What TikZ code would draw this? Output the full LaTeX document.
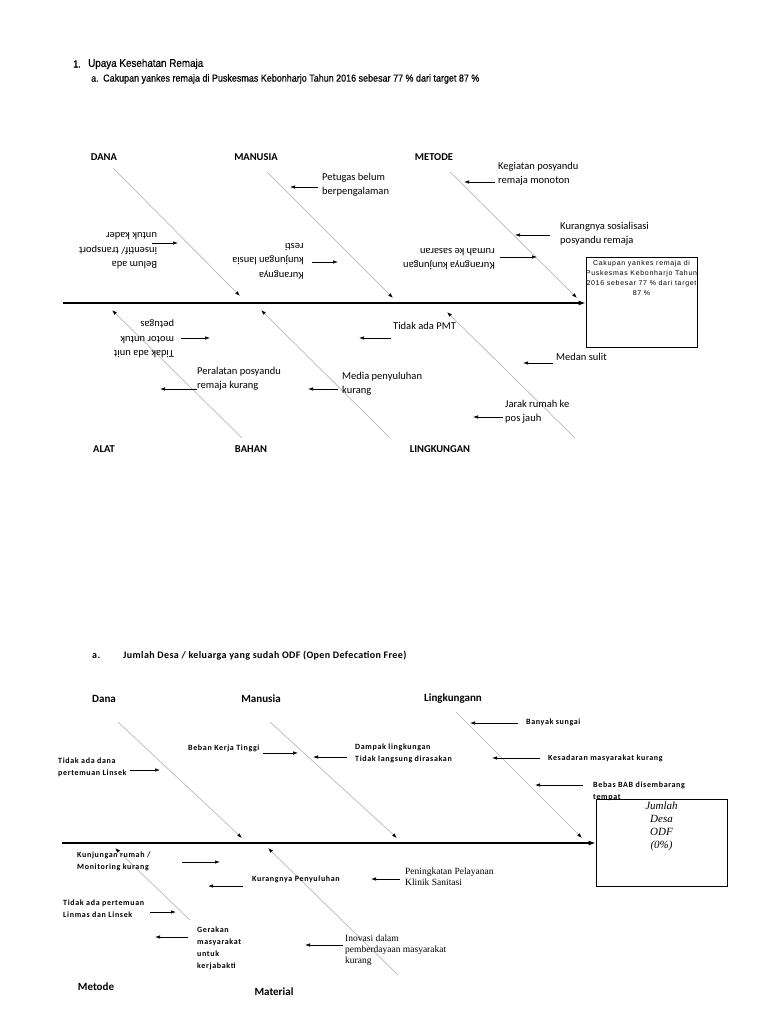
\documentclass[tikz,border=0pt]{standalone}
\usepackage{fontspec}
\usetikzlibrary{arrows.meta}
\usetikzlibrary{positioning}
\newfontfamily\fontcal{Carlito}
\newfontfamily\fontsmall[LetterSpace=8]{Carlito}
\newfontfamily\fonthead[LetterSpace=4]{Carlito}
\newfontfamily\fontarial[FakeStretch=0.88,FakeBold=0.4]{Liberation Sans}
\newfontfamily\fontbox[LetterSpace=10]{Liberation Sans}
\newfontfamily\fontserif{Liberation Serif}
\tikzset{
  bone/.style={draw=gray!55,line width=0.7pt,
    -{Latex[length=5pt,width=3.5pt,color=black]}},
  spine/.style={line width=1.8pt,-{Latex[length=7pt,width=5pt]}},
  cause/.style={line width=0.7pt,-{Latex[length=5pt,width=3.5pt]}},
  heading/.style={font=\fontarial\fontsize{10.2}{11}\selectfont,anchor=west,inner sep=0pt},
  headingb/.style={font=\fonthead\bfseries\fontsize{10}{11}\selectfont,anchor=west,inner sep=0pt},
  cat/.style={font=\fontcal\bfseries\fontsize{10.5}{12}\selectfont,inner sep=0pt},
  cattwo/.style={font=\fontcal\bfseries\fontsize{11}{12}\selectfont,inner sep=0pt},
  why/.style={font=\fontcal\fontsize{10.5}{14.5}\selectfont,align=left,anchor=west,inner sep=0pt},
  whyup/.style={why,anchor=center,rotate=180},
  whytiny/.style={font=\fontsmall\bfseries\fontsize{8}{12}\selectfont,align=left,anchor=west,inner sep=0pt},
  whyserif/.style={font=\fontserif\fontsize{9.5}{11}\selectfont,align=left,anchor=west,inner sep=0pt},
  effect/.style={rectangle,draw,line width=0.8pt,inner sep=0pt},
}

\begin{document}
\begin{tikzpicture}[x=1pt,y=-1pt]
  \useasboundingbox (0,0) rectangle (768,1024);

  % headings
  \node (h1n) [heading] at (73,64) {1.};
  \node (h1t) [heading,font=\fontarial\fontsize{11.2}{12}\selectfont] at (88,64) {Upaya Kesehatan Remaja};
  \node (h1an) [heading] at (91,79) {a.};
  \node (h1at) [heading] at (103,79) {Cakupan yankes remaja di Puskesmas Kebonharjo Tahun 2016 sebesar 77 \% dari target 87 \%};

  % ---- first fishbone
  \node (box1) [effect,minimum width=111pt,minimum height=90pt] at (641.5,302) {};
  \node (box1t) [font=\fontbox\fontsize{7}{10}\selectfont,align=center,below=4pt of box1.north,inner sep=0pt]
    {Cakupan yankes remaja di\\Puskesmas Kebonharjo Tahun\\2016 sebesar 77 \% dari target\\87 \%};
  \coordinate (s1) at (63,303);
  \draw[spine] (s1) -- (box1.west |- s1);

  \node (dana) [cat] at (104,157) {DANA};
  \node (manusia) [cat] at (256,157) {MANUSIA};
  \node (metode) [cat] at (434,157) {METODE};
  \node (alat) [cat] at (104,449) {ALAT};
  \node (bahan) [cat] at (251,449) {BAHAN};
  \node (lingk) [cat] at (440,449) {LINGKUNGAN};

  \coordinate (b1a) at (113,168); \coordinate (b1b) at (240,296);
  \coordinate (b2a) at (267,172); \coordinate (b2b) at (393,298);
  \coordinate (b3a) at (450,172); \coordinate (b3b) at (577,298);
  \coordinate (b4a) at (242,438); \coordinate (b4b) at (112,310);
  \coordinate (b5a) at (390,438); \coordinate (b5b) at (261,310);
  \coordinate (b6a) at (575,438); \coordinate (b6b) at (447,312);
  \draw[bone] (b1a) -- (b1b);
  \draw[bone] (b2a) -- (b2b);
  \draw[bone] (b3a) -- (b3b);
  \draw[bone] (b4a) -- (b4b);
  \draw[bone] (b5a) -- (b5b);
  \draw[bone] (b6a) -- (b6b);

  \node (insentif) [whyup] at (118,251) {Belum ada\\insentif/ transport\\untuk kader};
  \node (petugas) [why] at (322,185) {Petugas belum\\berpengalaman};
  \node (lansia) [whyup] at (268,261) {Kurangnya\\kunjungan lansia\\resti};
  \node (monoton) [why] at (498,174) {Kegiatan posyandu\\remaja monoton};
  \node (sosial) [why] at (560,234) {Kurangnya sosialisasi\\posyandu remaja};
  \node (sasaran) [whyup] at (449,259) {Kurangnya kunjungan\\rumah ke sasaran};
  \node (motor) [whyup] at (144,339) {Tidak ada unit\\motor untuk\\petugas};
  \node (peralatan) [why] at (197,379) {Peralatan posyandu\\remaja kurang};
  \node (media) [why] at (342,384) {Media penyuluhan\\kurang};
  \node (pmt) [why] at (393,326) {Tidak ada PMT};
  \node (medan) [why] at (556,357) {Medan sulit};
  \node (jarak) [why] at (505,412) {Jarak rumah ke\\pos jauh};

  \coordinate (c1a) at (152,243); \coordinate (c1b) at (178,243);
  \coordinate (c2a) at (318,187); \coordinate (c2b) at (290,187);
  \coordinate (c3a) at (312,262); \coordinate (c3b) at (338,262);
  \coordinate (c4a) at (495,182); \coordinate (c4b) at (464,182);
  \coordinate (c5a) at (550,235); \coordinate (c5b) at (515,235);
  \coordinate (c6a) at (500,257); \coordinate (c6b) at (537,257);
  \coordinate (c7a) at (181,338); \coordinate (c7b) at (210,338);
  \coordinate (c8a) at (197,389); \coordinate (c8b) at (160,389);
  \coordinate (c9a) at (338,389); \coordinate (c9b) at (308,389);
  \coordinate (c10a) at (391,338); \coordinate (c10b) at (359,338);
  \coordinate (c11a) at (553,363); \coordinate (c11b) at (523,363);
  \coordinate (c12a) at (503,417); \coordinate (c12b) at (473,417);
  \draw[cause] (c1a) -- (c1b);
  \draw[cause] (c2a) -- (c2b);
  \draw[cause] (c3a) -- (c3b);
  \draw[cause] (c4a) -- (c4b);
  \draw[cause] (c5a) -- (c5b);
  \draw[cause] (c6a) -- (c6b);
  \draw[cause] (c7a) -- (c7b);
  \draw[cause] (c8a) -- (c8b);
  \draw[cause] (c9a) -- (c9b);
  \draw[cause] (c10a) -- (c10b);
  \draw[cause] (c11a) -- (c11b);
  \draw[cause] (c12a) -- (c12b);

  % ---- second fishbone
  \node (h2n) [headingb] at (92,656) {a.};
  \node (h2t) [headingb] at (123,656) {Jumlah Desa / keluarga yang sudah ODF (Open Defecation Free)};

  \node (box2) [effect,minimum width=131pt,minimum height=87pt] at (661.5,842.5) {};
  \node (box2t) [font=\fontserif\itshape\fontsize{11}{13}\selectfont,align=center,below=3pt of box2.north,inner sep=0pt]
    {Jumlah\\Desa\\ODF\\(0\%)};
  \coordinate (s2) at (62,843);
  \draw[spine] (s2) -- (box2.west |- s2);

  \node (dana2) [cattwo] at (104,699) {Dana};
  \node (manusia2) [cattwo] at (261,699) {Manusia};
  \node (lingk2) [cattwo] at (453,699) {Lingkungann};
  \node (metode2) [cattwo] at (96,987) {Metode};
  \node (material2) [cattwo] at (274,992) {Material};

  \coordinate (d1a) at (118,722); \coordinate (d1b) at (242,838);
  \coordinate (d2a) at (270,722); \coordinate (d2b) at (397,838);
  \coordinate (d3a) at (456,712); \coordinate (d3b) at (582,838);
  \coordinate (d4a) at (190,920); \coordinate (d4b) at (115,848);
  \coordinate (d5a) at (398,975); \coordinate (d5b) at (268,848);
  \draw[bone] (d1a) -- (d1b);
  \draw[bone] (d2a) -- (d2b);
  \draw[bone] (d3a) -- (d3b);
  \draw[bone] (d4a) -- (d4b);
  \draw[bone] (d5a) -- (d5b);

  \node (danalinsek) [whytiny] at (58,767) {Tidak ada dana\\pertemuan Linsek};
  \node (beban) [whytiny] at (188,748) {Beban Kerja Tinggi};
  \node (dampak) [whytiny] at (355,753) {Dampak lingkungan\\Tidak langsung dirasakan};
  \node (sungai) [whytiny] at (526,722) {Banyak sungai};
  \node (sadar) [whytiny] at (548,758) {Kesadaran masyarakat kurang};
  \node (bab) [whytiny] at (593,791) {Bebas BAB disembarang\\tempat};
  \node (monitor) [whytiny] at (77,861) {Kunjungan rumah /\\Monitoring kurang};
  \node (penyuluhan) [whytiny] at (252,879) {Kurangnya Penyuluhan};
  \node (klinik) [whyserif] at (405,877) {Peningkatan Pelayanan\\Klinik Sanitasi};
  \node (linmas) [whytiny] at (63,909) {Tidak ada pertemuan\\Linmas dan Linsek};
  \node (gerakan) [whytiny] at (197,948) {Gerakan\\masyarakat\\untuk\\kerjabakti};
  \node (inovasi) [whyserif] at (345,950) {Inovasi dalam\\pemberdayaan masyarakat\\kurang};

  \coordinate (e1a) at (130,770); \coordinate (e1b) at (160,770);
  \coordinate (e2a) at (263,753); \coordinate (e2b) at (298,753);
  \coordinate (e3a) at (347,757); \coordinate (e3b) at (313,757);
  \coordinate (e4a) at (518,723); \coordinate (e4b) at (470,723);
  \coordinate (e5a) at (540,758); \coordinate (e5b) at (492,758);
  \coordinate (e6a) at (583,785); \coordinate (e6b) at (535,785);
  \coordinate (e7a) at (182,862); \coordinate (e7b) at (220,862);
  \coordinate (e8a) at (243,886); \coordinate (e8b) at (208,886);
  \coordinate (e9a) at (400,879); \coordinate (e9b) at (371,879);
  \coordinate (e10a) at (150,912); \coordinate (e10b) at (176,912);
  \coordinate (e11a) at (188,937); \coordinate (e11b) at (155,937);
  \coordinate (e12a) at (343,945); \coordinate (e12b) at (305,945);
  \draw[cause] (e1a) -- (e1b);
  \draw[cause] (e2a) -- (e2b);
  \draw[cause] (e3a) -- (e3b);
  \draw[cause] (e4a) -- (e4b);
  \draw[cause] (e5a) -- (e5b);
  \draw[cause] (e6a) -- (e6b);
  \draw[cause] (e7a) -- (e7b);
  \draw[cause] (e8a) -- (e8b);
  \draw[cause] (e9a) -- (e9b);
  \draw[cause] (e10a) -- (e10b);
  \draw[cause] (e11a) -- (e11b);
  \draw[cause] (e12a) -- (e12b);
\end{tikzpicture}
\end{document}
